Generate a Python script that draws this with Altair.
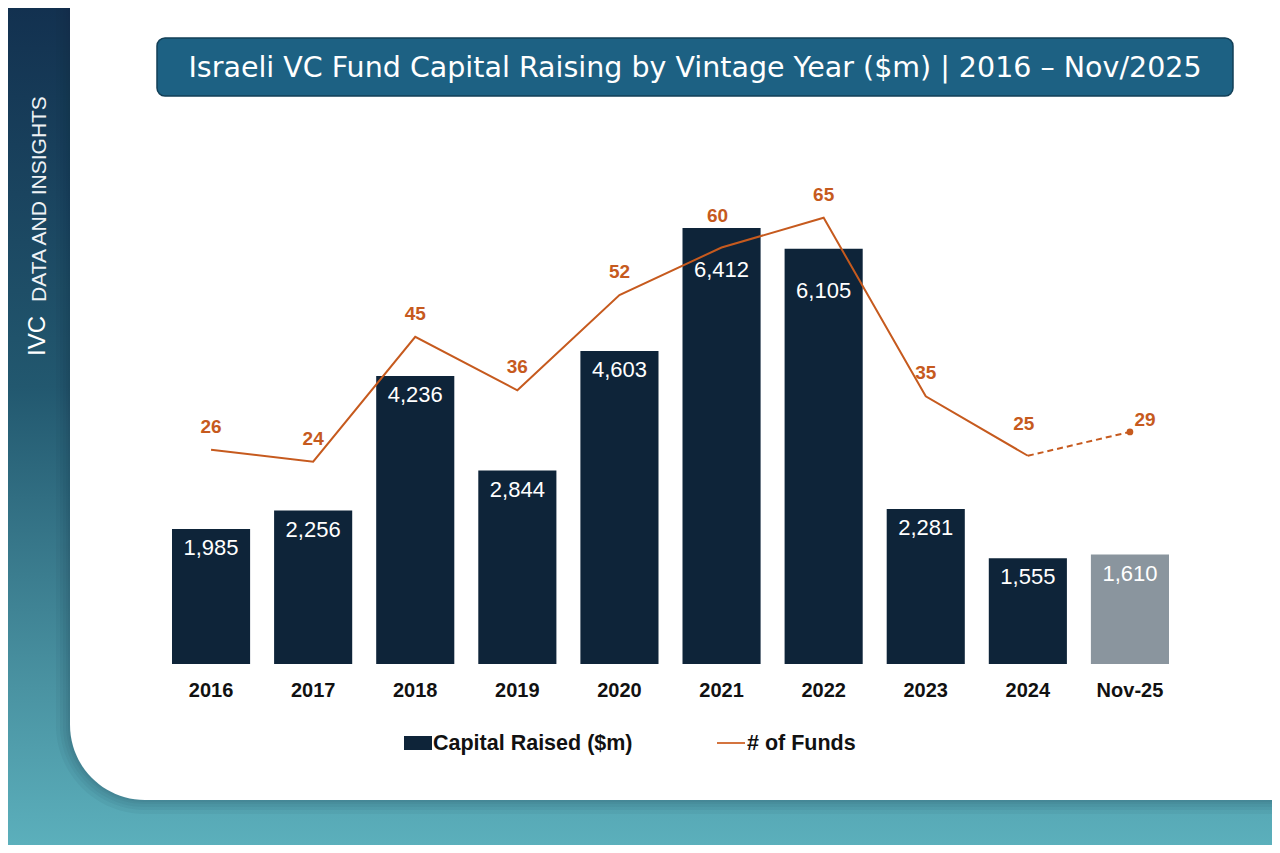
import altair as alt
import pandas as pd

# ---- data ----
years = ["2016", "2017", "2018", "2019", "2020", "2021", "2022", "2023", "2024", "Nov-25"]
capital = [1985, 2256, 4236, 2844, 4603, 6412, 6105, 2281, 1555, 1610]
funds = [26, 24, 45, 36, 52, 60, 65, 35, 25, 29]

title_text = "Israeli VC Fund Capital Raising by Vintage Year ($m) | 2016 \u2013 Nov/2025"
legend_bar = "Capital Raised ($m)"
legend_line = "# of Funds"
side_text = "DATA AND INSIGHTS"
logo_text = "IVC"

df = pd.DataFrame({"year": years, "capital": capital, "funds": funds})

NAVY = "#0e2439"
GRAY = "#8a959e"
ORANGE = "#c65a1e"
FONT = "Liberation Sans"

# page -> view offsets (plot area origin at page x=160, y=188)
OX, OY = 160, 188


def vx(px):
    return px - OX


def vy(py):
    return py - OY


one = alt.Data(values=[{"k": 1}])

# ---- decorations ----
bg = alt.Chart(one).mark_rect(
    color=alt.Gradient(
        gradient="linear",
        stops=[
            alt.GradientStop(offset=0, color="#12304f"),
            alt.GradientStop(offset=0.45, color="#22586f"),
            alt.GradientStop(offset=0.8, color="#4a93a2"),
            alt.GradientStop(offset=1, color="#5db2be"),
        ],
        x1=0, x2=0, y1=0, y2=1,
    )
).encode(x=alt.value(vx(0)), x2=alt.value(vx(1290)), y=alt.value(vy(0)), y2=alt.value(vy(860)))

shadows = [
    alt.Chart(one).mark_rect(color="#0b2a3a", opacity=0.05, cornerRadius=75 + k).encode(
        x=alt.value(vx(70 - k)), x2=alt.value(vx(1400)),
        y=alt.value(vy(-100)), y2=alt.value(vy(800 + k)),
    )
    for k in (2, 4, 7, 10, 14)
]

panel = alt.Chart(one).mark_rect(color="white", cornerRadius=75).encode(
    x=alt.value(vx(70)), x2=alt.value(vx(1400)), y=alt.value(vy(-100)), y2=alt.value(vy(800))
)

title_box = alt.Chart(one).mark_rect(
    color="#1d6183", stroke="#123f57", strokeWidth=1.5, cornerRadius=8
).encode(x=alt.value(vx(157)), x2=alt.value(vx(1233)), y=alt.value(vy(38)), y2=alt.value(vy(96)))

title = alt.Chart(one).mark_text(
    text=title_text, font="DejaVu Sans", fontSize=28.5, color="white", align="center", baseline="middle"
).encode(x=alt.value(vx(695)), y=alt.value(vy(68)))

side = alt.Chart(one).mark_text(
    text=side_text, font=FONT, fontSize=21, color="#eef2f5", angle=270, align="center", baseline="middle"
).encode(x=alt.value(vx(40)), y=alt.value(vy(199)))

logo = alt.Chart(one).mark_text(
    text=logo_text, font=FONT, fontSize=24, color="white", angle=270, align="center", baseline="middle"
).encode(x=alt.value(vx(38)), y=alt.value(vy(336)))

# ---- chart layers ----
X = alt.X(
    "year:N", sort=years, title=None,
    scale=alt.Scale(paddingInner=0.235, paddingOuter=0.1175),
    axis=alt.Axis(labelAngle=0, ticks=False, domain=False, grid=False, labelFont=FONT,
                  labelFontSize=20, labelFontWeight="bold", labelColor="#111111",
                  labelPadding=16, zindex=1),
)
base = alt.Chart(df).encode(x=X)

Ycap = alt.Y("capital:Q", scale=alt.Scale(domain=[0, 7000]), axis=None)
Yf = alt.Y("funds:Q", scale=alt.Scale(domain=[-10, 70]), axis=None)

bars = base.mark_bar().encode(
    y=Ycap,
    color=alt.condition(alt.datum.year == "Nov-25", alt.value(GRAY), alt.value(NAVY)),
)

bar_lab = base.transform_filter(
    ~alt.FieldOneOfPredicate(field="year", oneOf=["2021", "2022"])
).mark_text(font=FONT, fontSize=22, color="white", baseline="middle", dy=19).encode(
    y=Ycap, text=alt.Text("capital:Q", format=",")
)
bar_lab_hi = base.transform_filter(
    alt.FieldOneOfPredicate(field="year", oneOf=["2021", "2022"])
).mark_text(font=FONT, fontSize=22, color="white", baseline="middle", dy=42).encode(
    y=Ycap, text=alt.Text("capital:Q", format=",")
)

line_solid = base.transform_filter(alt.datum.year != "Nov-25").mark_line(
    color=ORANGE, strokeWidth=2
).encode(y=Yf)
line_dash = base.transform_filter(
    alt.FieldOneOfPredicate(field="year", oneOf=["2024", "Nov-25"])
).mark_line(color=ORANGE, strokeWidth=2, strokeDash=[6, 4]).encode(y=Yf)
dot = base.transform_filter(alt.datum.year == "Nov-25").mark_point(
    filled=True, color=ORANGE, size=45, opacity=1
).encode(y=Yf)

lab_txt = dict(font=FONT, fontSize=19, fontWeight="bold", color=ORANGE, baseline="middle")
f_lab = base.transform_filter(
    ~alt.FieldOneOfPredicate(field="year", oneOf=["2021", "2024", "Nov-25"])
).mark_text(dy=-23, **lab_txt).encode(y=Yf, text="funds:Q")
f_lab_hi = base.transform_filter(
    alt.FieldOneOfPredicate(field="year", oneOf=["2021", "2024"])
).mark_text(dy=-32, dx=-4, **lab_txt).encode(y=Yf, text="funds:Q")
f_lab_last = base.transform_filter(alt.datum.year == "Nov-25").mark_text(
    dy=-12, dx=15, **lab_txt
).encode(y=Yf, text="funds:Q")

# ---- legend ----
leg_sw = alt.Chart(one).mark_rect(color=NAVY).encode(
    x=alt.value(vx(404)), x2=alt.value(vx(432)), y=alt.value(vy(736)), y2=alt.value(vy(750))
)
leg_t1 = alt.Chart(one).mark_text(
    text=legend_bar, font=FONT, fontSize=21.5, fontWeight="bold", color="#111111", align="left", baseline="middle"
).encode(x=alt.value(vx(433)), y=alt.value(vy(744)))
leg_ln = alt.Chart(one).mark_rule(color="#d4743f", strokeWidth=2).encode(
    x=alt.value(vx(717)), x2=alt.value(vx(745)), y=alt.value(vy(743))
)
leg_t2 = alt.Chart(one).mark_text(
    text=legend_line, font=FONT, fontSize=21.5, fontWeight="bold", color="#111111", align="left", baseline="middle"
).encode(x=alt.value(vx(747)), y=alt.value(vy(744)))

chart = alt.layer(
    bg, *shadows, panel, title_box, title, side, logo,
    bars, bar_lab, bar_lab_hi, line_solid, line_dash, dot, f_lab, f_lab_hi, f_lab_last,
    leg_sw, leg_t1, leg_ln, leg_t2,
).resolve_scale(y="independent").properties(
    width=1021, height=476,
    padding={"left": OX - 8, "top": OY - 8, "right": 1264 - (OX - 8) - 1021, "bottom": 837 - (OY - 8) - 476},
    autosize=alt.AutoSizeParams(type="none"),
).configure_view(stroke=None)

chart.save("out.html", embed_options={"renderer": "svg", "actions": False})
